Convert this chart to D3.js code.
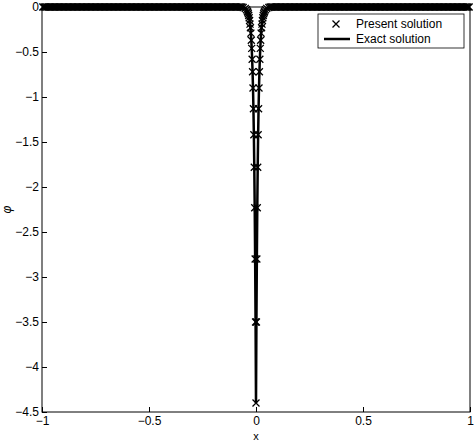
<!DOCTYPE html>
<html><head><meta charset="utf-8">
<script src="https://cdn.jsdelivr.net/npm/d3@7"></script>
<style>body{margin:0;background:#fff}text{font-family:"Liberation Sans",Arial,sans-serif;font-size:12px}</style>
</head><body><div id="chart"></div>
<script>
// core of the solution near x = 0 (|x|, phi)
var coreX = [0, 0.002, 0.004, 0.006, 0.008, 0.010, 0.012, 0.014, 0.016, 0.018, 0.020, 0.022, 0.024, 0.026, 0.028, 0.030, 0.032, 0.034, 0.036, 0.038, 0.040, 0.044, 0.050, 0.060];
var coreY = [-4.4, -3.5, -2.8, -2.23, -1.78, -1.42, -1.13, -0.9, -0.72, -0.58, -0.46, -0.37, -0.29, -0.23, -0.19, -0.15, -0.12, -0.095, -0.075, -0.06, -0.048, -0.03, -0.015, -0.005];
var xTicks = [-1, -0.5, 0, 0.5, 1];
var yTicks = [0, -0.5, -1, -1.5, -2, -2.5, -3, -3.5, -4, -4.5];

var svgWidth = 474, svgHeight = 444;
var margin = {top: 7, right: 4, bottom: 32, left: 42};
var width = svgWidth - margin.left - margin.right;
var height = svgHeight - margin.top - margin.bottom;

var svg = d3.select("#chart").append("svg")
   .attr("width", svgWidth).attr("height", svgHeight);
var g = svg.append("g").attr("transform", `translate(${margin.left}, ${margin.top})`);

var x = d3.scaleLinear().domain([-1, 1]).range([0, width]);
var y = d3.scaleLinear().domain([-4.5, 0]).range([height, 0]);

// build symmetric point set
var pts = [];
for (var i = coreX.length - 1; i > 0; i--) pts.push([-coreX[i], coreY[i]]);
for (var i = 0; i < coreX.length; i++) pts.push([coreX[i], coreY[i]]);
var flat = d3.range(0.066, 1.0001, 0.006).map(v => +v.toFixed(3));
var left = flat.slice().reverse().map(v => [-v, 0]);
var right = flat.map(v => [v, 0]);
var all = left.concat(pts, right);

g.append("path").datum(all)
   .attr("fill", "none").attr("stroke", "#000").attr("stroke-width", 2.5)
   .attr("d", d3.line().x(d => x(d[0])).y(d => y(d[1])));

var s = 3.5;
g.selectAll(".mk").data(all).enter().append("path")
   .attr("class", "mk")
   .attr("transform", d => `translate(${x(d[0])},${y(d[1])})`)
   .attr("d", `M${-s},${-s}L${s},${s}M${-s},${s}L${s},${-s}`)
   .attr("stroke", "#000").attr("stroke-width", 1.3);

// axes box
g.append("rect").attr("width", width).attr("height", height)
   .attr("fill", "none").attr("stroke", "#000").attr("stroke-width", 1);

var xAxis = g.append("g").attr("transform", `translate(0, ${height})`)
   .call(d3.axisBottom(x).tickValues(xTicks).tickSize(-5).tickPadding(4).tickFormat(d3.format("")));
var yAxis = g.append("g")
   .call(d3.axisLeft(y).tickValues(yTicks).tickSize(-5).tickPadding(3).tickFormat(d3.format("")));
[xAxis, yAxis].forEach(a => { a.select(".domain").remove(); a.selectAll("text").style("font-size", "12px").attr("fill", "#000"); });

g.append("text").attr("x", width / 2).attr("y", height + 28).attr("text-anchor", "middle").style("font-size", "11px").text("x");
g.append("text").attr("transform", `translate(${-31}, ${height / 2}) rotate(-90)`)
   .attr("text-anchor", "middle").style("font-style", "italic").text("φ");

// legend
var lg = g.append("g").attr("transform", `translate(${width - 152}, 7)`);
lg.append("rect").attr("width", 146).attr("height", 34).attr("fill", "#fff").attr("stroke", "#000").attr("stroke-width", 0.8);
lg.append("path").attr("d", `M${18 - s},${10 - s}L${18 + s},${10 + s}M${18 - s},${10 + s}L${18 + s},${10 - s}`)
   .attr("stroke", "#000").attr("stroke-width", 1.3);
lg.append("line").attr("x1", 6).attr("x2", 32).attr("y1", 25).attr("y2", 25).attr("stroke", "#000").attr("stroke-width", 2.5);
lg.append("text").attr("x", 38).attr("y", 14).text("Present solution");
lg.append("text").attr("x", 38).attr("y", 29).text("Exact solution");
</script></body></html>
